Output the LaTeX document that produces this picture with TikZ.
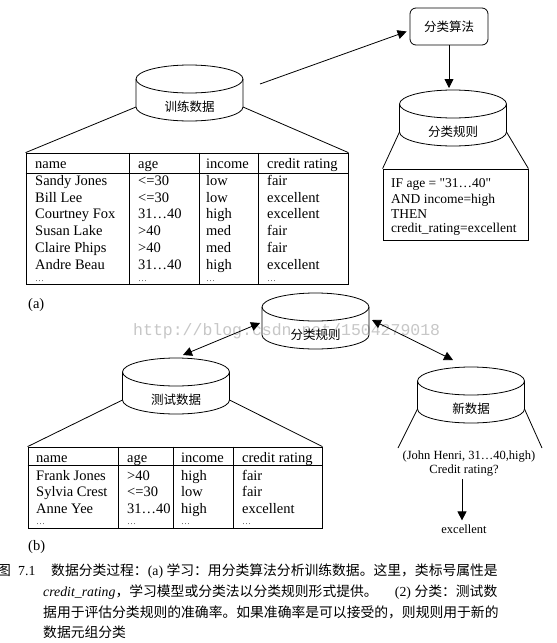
\documentclass[tikz,border=0pt]{standalone}
\usepackage{fontspec}
\setmainfont{Liberation Serif}
\newfontfamily\cjk{Noto Sans CJK SC}
\newfontfamily\wmfont{Liberation Mono}
\usetikzlibrary{arrows.meta,calc}

\tikzset{
  ln/.style={line width=0.8pt},
  arr/.style={ln,-{Triangle[length=9pt,width=9pt]}},
  darr/.style={ln,{Triangle[length=9pt,width=9pt]}-{Triangle[length=9pt,width=9pt]}},
  cjklbl/.style={font=\cjk\fontsize{12.5}{14}\selectfont,inner sep=0pt},
  tabtxt/.style={font=\fontsize{14.5}{16}\selectfont,anchor=base west,inner sep=0pt},
  tabdots/.style={font=\fontsize{9}{10}\selectfont,text=black!70,anchor=base west,inner sep=0pt},
  ruletxt/.style={font=\fontsize{13.5}{15}\selectfont,anchor=base west,inner sep=0pt},
  newtxt/.style={font=\fontsize{12.5}{14}\selectfont,inner sep=2pt},
  captxt/.style={font=\fontsize{13.8}{16}\selectfont,anchor=base west,inner sep=0pt},
  tabbox/.style={draw,ln,inner sep=0pt},
}

% cylinder: name, center x, top-ellipse center y, label
\newcommand{\dbcyl}[4]{%
  \draw[ln] (#2,#3) ellipse [x radius=53.5pt, y radius=14pt];
  \draw[ln] (#2-53.5,#3) -- (#2-53.5,#3+28)
    arc[start angle=180,end angle=360,x radius=53.5pt,y radius=14pt]
    -- (#2+53.5,#3);
  \node[cjklbl] (#1) at (#2,#3+28) {#4};
  \coordinate (#1-sw) at (#2-53.5,#3+28);
  \coordinate (#1-se) at (#2+53.5,#3+28);
  \coordinate (#1-w) at (#2-53.5,#3+14);
  \coordinate (#1-e) at (#2+53.5,#3+14);
  \coordinate (#1-n) at (#2,#3-14);
}

\begin{document}
\begin{tikzpicture}[x=1pt,y=-1pt]
\fill[white] (0,0) rectangle (557,643);
\path[use as bounding box] (0,0) rectangle (557,643);

% watermark
\node[font=\wmfont\fontsize{16.5}{17}\selectfont,text=black!22,anchor=west,inner sep=0pt] (wm) at (133,331) {http://blog.csdn.net/1504279018};

% ---------- (a) ----------
\dbcyl{trn}{189.5}{79}{训练数据}
\node[draw,ln,rounded corners=6pt,minimum width=78pt,minimum height=37pt,cjklbl] (algo) at (449,26.5) {分类算法};
\dbcyl{rc}{453}{104}{分类规则}

\coordinate (a1) at (260,84);
\draw[arr] (a1) -- ($(algo.west)+(-3,5)$);
\draw[arr,shorten >=2pt] (algo.south) -- (algo.south |- rc-n);

% training table
\node[tabbox,minimum width=322pt,minimum height=131pt] (tabA) at (187,218.5) {};
\draw[ln] (tabA.west |- 0,173) -- (tabA.east |- 0,173);
\foreach \cx in {129,199,258} \draw[ln] (tabA.north -| \cx,0) -- (tabA.south -| \cx,0);
\draw[ln] (trn-sw) -- (tabA.north west);
\draw[ln] (trn-se) -- (tabA.north east);
\foreach \y/\a/\b/\c/\d [count=\r] in {
  168/name/age/income/credit rating,
  185/Sandy Jones/<=30/low/fair,
  202/Bill Lee/<=30/low/excellent,
  218/Courtney Fox/31…40/high/excellent,
  235/Susan Lake/>40/med/fair,
  252/Claire Phips/>40/med/fair,
  269/Andre Beau/31…40/high/excellent}{
  \node[tabtxt] (ta\r n) at (35,\y) {\a};
  \node[tabtxt] (ta\r a) at (138,\y) {\b};
  \node[tabtxt] (ta\r i) at (206,\y) {\c};
  \node[tabtxt] (ta\r c) at (267,\y) {\d};
}
\foreach \x [count=\k] in {35,138,206,267} \node[tabdots] (tadots\k) at (\x,281) {…};
\node[tabtxt] (lblA) at (28,308) {(a)};

% rule box
\node[tabbox,minimum width=145pt,minimum height=71pt] (rulebox) at (455.5,204.5) {};
\draw[ln] (rc-sw) -- (rulebox.north west);
\draw[ln] (rc-se) -- (rulebox.north east);
\node[ruletxt] (r1) at (391,187.5) {IF age = \textquotedbl31…40\textquotedbl};
\node[ruletxt] (r2) at (391,203.5) {AND income=high};
\node[ruletxt] (r3) at (391,218.5) {THEN};
\node[ruletxt] (r4) at (391,232.5) {credit\_rating=excellent};

% ---------- (b) ----------
\dbcyl{mr}{315.5}{307}{分类规则}
\dbcyl{ts}{176}{372}{测试数据}
\dbcyl{nd}{471}{381}{新数据}

\draw[darr] ($(mr-w)+(-2,2)$) -- ($(ts-n)+(7,-3)$);
\draw[darr] ($(mr-e)+(3,-1)$) -- ($(nd-n)+(-18,-7)$);

% test table
\node[tabbox,minimum width=294pt,minimum height=81pt] (tabB) at (175,487.5) {};
\draw[ln] (tabB.west |- 0,465) -- (tabB.east |- 0,465);
\foreach \cx in {118,173,233} \draw[ln] (tabB.north -| \cx,0) -- (tabB.south -| \cx,0);
\draw[ln] (ts-sw) -- (tabB.north west);
\draw[ln] (ts-se) -- (tabB.north east);
\foreach \y/\a/\b/\c/\d [count=\r] in {
  462/name/age/income/credit rating,
  480/Frank Jones/>40/high/fair,
  496/Sylvia Crest/<=30/low/fair,
  513/Anne Yee/31…40/high/excellent}{
  \node[tabtxt] (tb\r n) at (36,\y) {\a};
  \node[tabtxt] (tb\r a) at (127,\y) {\b};
  \node[tabtxt] (tb\r i) at (181,\y) {\c};
  \node[tabtxt] (tb\r c) at (242,\y) {\d};
}
\foreach \x [count=\k] in {36,127,181,242} \node[tabdots] (tbdots\k) at (\x,524) {…};
\node[tabtxt] (lblB) at (28,550) {(b)};

% new data
\coordinate (ndL) at (398,448);
\coordinate (ndR) at (542,448);
\draw[ln] (nd-sw) -- (ndL);
\draw[ln] (nd-se) -- (ndR);
\node[newtxt] (q1) at (469,457) {(John Henri, 31…40,high)};
\node[newtxt] (q2) at (464,471) {Credit rating?};
\node[newtxt] (ex) at (464,529) {excellent};
\draw[arr,shorten >=2pt] ($(q2.south)+(-2,0)$) -- ($(ex.north)+(-2,0)$);

% ---------- caption ----------
\node[captxt] (c0) at (-3,575) {\cjk 图};
\node[captxt] (c1) at (18,575) {7.1};
\node[captxt] (c2) at (51,575) {{\cjk 数据分类过程：}(a) {\cjk 学习：用分类算法分析训练数据。这里，类标号属性是}};
\node[captxt] (c3) at (43,596) {\textit{credit\_rating}{\cjk ，学习模型或分类法以分类规则形式提供。}\quad\ (2) {\cjk 分类：测试数}};
\node[captxt] (c4) at (43,617) {\cjk 据用于评估分类规则的准确率。如果准确率是可以接受的，则规则用于新的};
\node[captxt] (c5) at (43,637) {\cjk 数据元组分类};
\end{tikzpicture}
\end{document}
